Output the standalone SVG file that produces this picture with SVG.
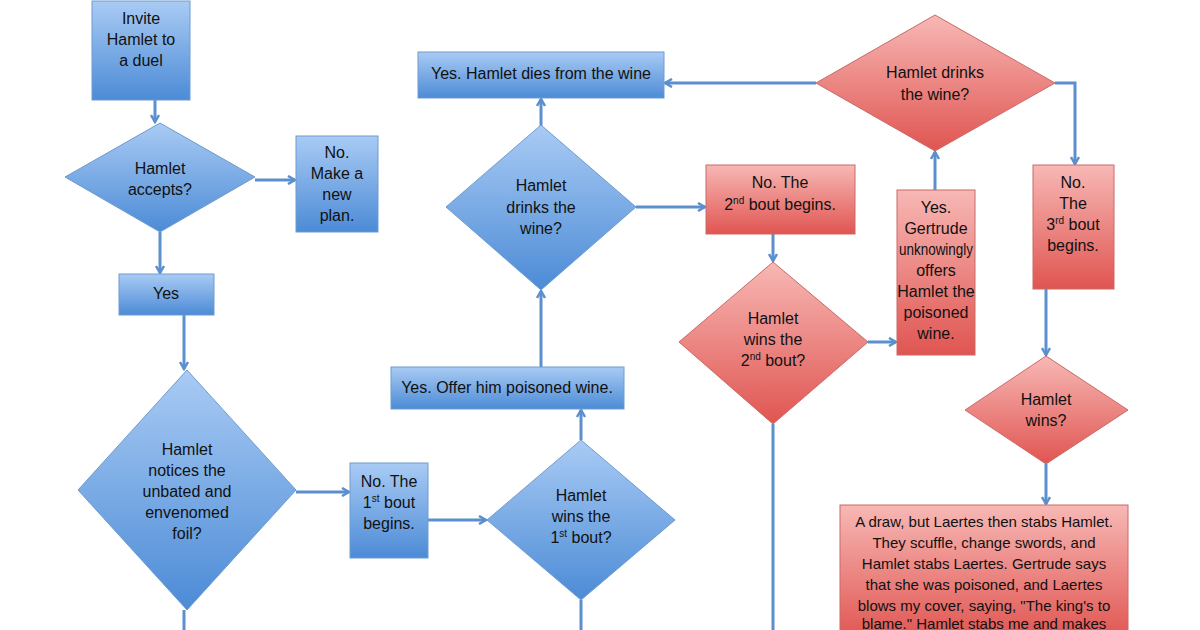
<svg xmlns="http://www.w3.org/2000/svg" width="1200" height="630" viewBox="0 0 1200 630">
<defs>
<linearGradient id="gb" x1="0" y1="0" x2="0" y2="1"><stop offset="0" stop-color="#a9cbf4"/><stop offset="1" stop-color="#4c8bd6"/></linearGradient>
<linearGradient id="gr" x1="0" y1="0" x2="0" y2="1"><stop offset="0" stop-color="#f7b8b5"/><stop offset="1" stop-color="#e05551"/></linearGradient>
<marker id="ah" markerWidth="10" markerHeight="10" refX="8" refY="5" orient="auto" markerUnits="userSpaceOnUse"><path d="M1,1 L8,5 L1,9" fill="none" stroke="#5b8fce" stroke-width="2.5"/></marker>
<style>
.b{fill:url(#gb);stroke:#6f9bd0;stroke-width:1}
.r{fill:url(#gr);stroke:#c96a66;stroke-width:1}
text{font-family:"Liberation Sans",Arial,sans-serif;font-size:16px;fill:#111;text-anchor:middle}
.s{font-size:15px}
.c path{fill:none;stroke:#5b8fce;stroke-width:3}
</style>
</defs>
<rect width="1200" height="630" fill="#fff"/>
<g class="c">
<path d="M155,100V122" marker-end="url(#ah)"/>
<path d="M255,180H295" marker-end="url(#ah)"/>
<path d="M160,232V273" marker-end="url(#ah)"/>
<path d="M184,315V369" marker-end="url(#ah)"/>
<path d="M296,492H349" marker-end="url(#ah)"/>
<path d="M428,520H486" marker-end="url(#ah)"/>
<path d="M581,440V410" marker-end="url(#ah)"/>
<path d="M541,367V291" marker-end="url(#ah)"/>
<path d="M541,127V99" marker-end="url(#ah)"/>
<path d="M636,207H705" marker-end="url(#ah)"/>
<path d="M773,234V261" marker-end="url(#ah)"/>
<path d="M868,342H896" marker-end="url(#ah)"/>
<path d="M935,190V152" marker-end="url(#ah)"/>
<path d="M816,83H665" marker-end="url(#ah)"/>
<path d="M1055,83H1075V164" marker-end="url(#ah)"/>
<path d="M1046,289V355" marker-end="url(#ah)"/>
<path d="M1046,464V504" marker-end="url(#ah)"/>
<path d="M184,610V630"/>
<path d="M581,600V630"/>
<path d="M773,424V630"/>
</g>
<g id="invite"><rect class="b" x="92" y="1" width="98" height="99"/><text x="141" y="24">Invite</text><text x="141" y="45">Hamlet to</text><text x="141" y="66">a duel</text></g>
<g id="accepts"><path class="b" d="M160,123L255,177L160,232L65,177Z"/><text x="160" y="174">Hamlet</text><text x="160" y="195">accepts?</text></g>
<g id="newplan"><rect class="b" x="296" y="136" width="82" height="96"/><text x="337" y="158">No.</text><text x="337" y="179">Make a</text><text x="337" y="200">new</text><text x="337" y="221">plan.</text></g>
<g id="yes1"><rect class="b" x="119" y="274" width="95" height="41"/><text x="166" y="299">Yes</text></g>
<g id="notices"><path class="b" d="M187,370L296,490L187,610L78,490Z"/><text x="187" y="455">Hamlet</text><text x="187" y="476">notices the</text><text x="187" y="497">unbated and</text><text x="187" y="518">envenomed</text><text x="187" y="539">foil?</text></g>
<g id="bout1"><rect class="b" x="350" y="463" width="78" height="95"/><text x="389" y="487">No. The</text><text x="389" y="508">1<tspan font-size="10" dy="-6">st</tspan><tspan dy="6"> bout</tspan></text><text x="389" y="529">begins.</text></g>
<g id="wins1"><path class="b" d="M581,440L675,520L581,600L487,520Z"/><text x="581" y="501">Hamlet</text><text x="581" y="522">wins the</text><text x="581" y="543">1<tspan font-size="10" dy="-6">st</tspan><tspan dy="6"> bout?</tspan></text></g>
<g id="offer"><rect class="b" x="391" y="367" width="233" height="42"/><text x="507" y="393">Yes. Offer him poisoned wine.</text></g>
<g id="drinks1"><path class="b" d="M541,125L636,207L541,290L446,207Z"/><text x="541" y="191">Hamlet</text><text x="541" y="213">drinks  the</text><text x="541" y="234">wine?</text></g>
<g id="dies"><rect class="b" x="418" y="52" width="246" height="46"/><text x="541" y="79">Yes. Hamlet dies from the wine</text></g>
<g id="bout2"><rect class="r" x="706" y="165" width="149" height="69"/><text x="780" y="188">No. The</text><text x="780" y="210">2<tspan font-size="10" dy="-6">nd</tspan><tspan dy="6"> bout begins.</tspan></text></g>
<g id="wins2"><path class="r" d="M773,262L868,342L773,424L679,342Z"/><text x="773" y="324">Hamlet</text><text x="773" y="345">wins the</text><text x="773" y="366">2<tspan font-size="10" dy="-6">nd</tspan><tspan dy="6"> bout?</tspan></text></g>
<g id="gertrude"><rect class="r" x="897" y="190" width="78" height="165"/><text x="936" y="213">Yes.</text><text x="936" y="234">Gertrude</text><text x="936" y="255" textLength="74" lengthAdjust="spacingAndGlyphs">unknowingly</text><text x="936" y="276">offers</text><text x="936" y="297">Hamlet the</text><text x="936" y="318">poisoned</text><text x="936" y="339">wine.</text></g>
<g id="drinks2"><path class="r" d="M935,15L1055,83L935,151L816,83Z"/><text x="935" y="78">Hamlet drinks</text><text x="935" y="100">the wine?</text></g>
<g id="bout3"><rect class="r" x="1033" y="165" width="81" height="124"/><text x="1073" y="188">No.</text><text x="1073" y="209">The</text><text x="1073" y="230">3<tspan font-size="10" dy="-6">rd</tspan><tspan dy="6"> bout</tspan></text><text x="1073" y="251">begins.</text></g>
<g id="wins3"><path class="r" d="M1046,356L1128,410L1046,464L965,410Z"/><text x="1046" y="405">Hamlet</text><text x="1046" y="426">wins?</text></g>
<g id="draw"><rect class="r" x="840" y="505" width="288" height="135"/>
<text class="s" x="984" y="527">A draw, but Laertes then stabs Hamlet.</text>
<text class="s" x="984" y="548">They scuffle, change swords, and</text>
<text class="s" x="984" y="569">Hamlet stabs Laertes. Gertrude says</text>
<text class="s" x="984" y="590">that she was poisoned, and Laertes</text>
<text class="s" x="984" y="611">blows my cover, saying, "The king's to</text>
<text class="s" x="984" y="629">blame." Hamlet stabs me and makes</text></g>
</svg>
